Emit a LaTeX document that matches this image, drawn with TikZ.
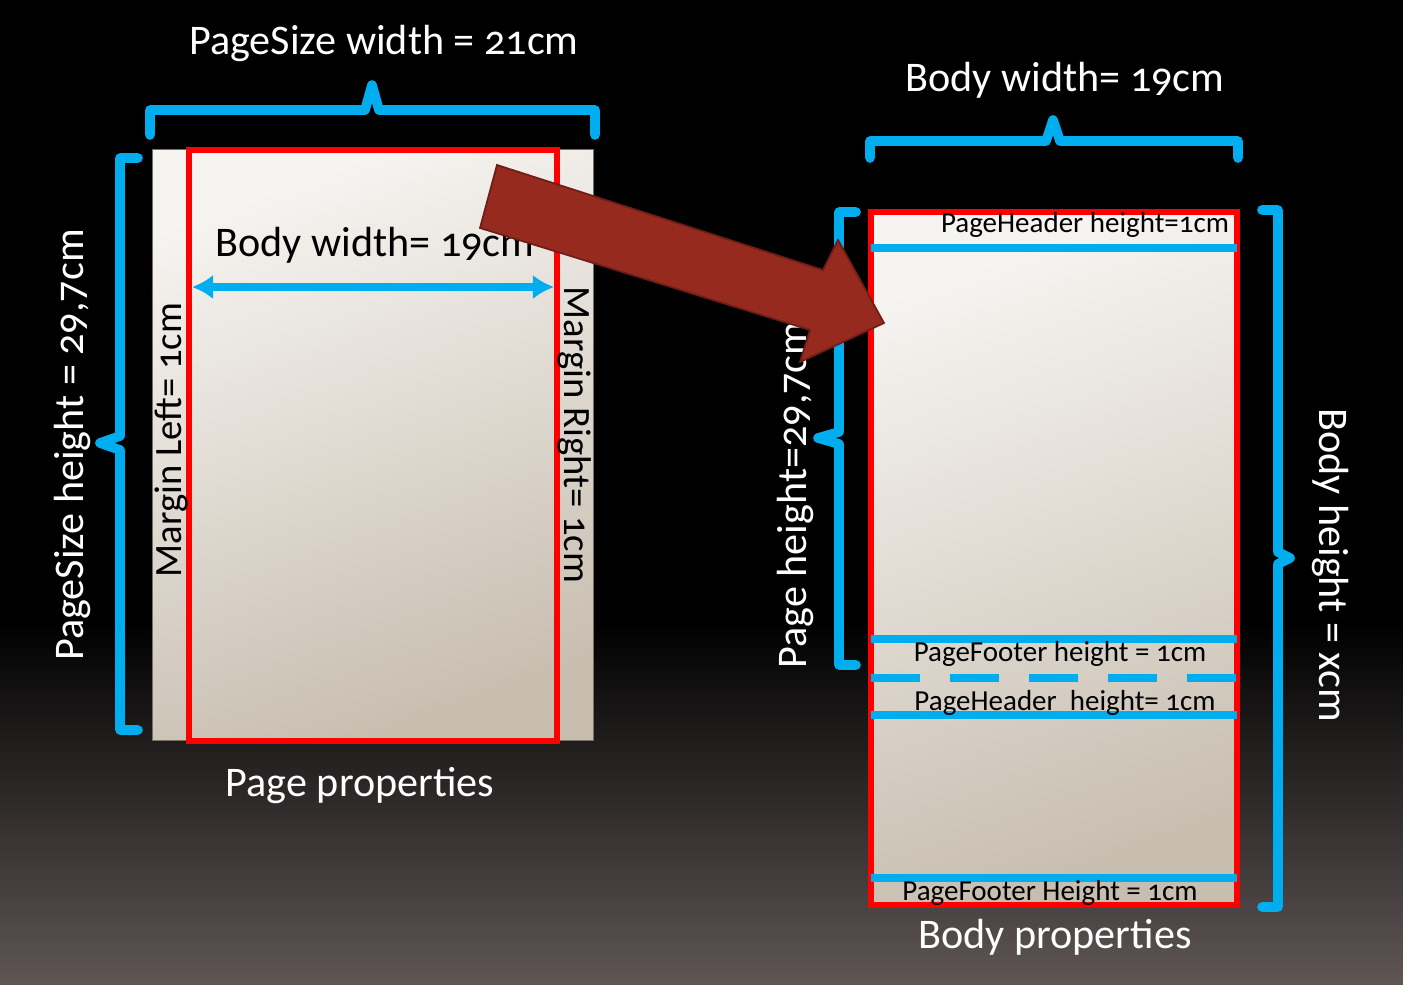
\documentclass[tikz,border=0pt]{standalone}
\usepackage{fontspec}
\usetikzlibrary{arrows.meta}
\setmainfont[Numbers=OldStyle]{Carlito}
\definecolor{cy}{RGB}{0,174,239}
\definecolor{pgtop}{RGB}{246,244,241}
\definecolor{pgbot}{RGB}{200,190,176}
\definecolor{pgedge}{RGB}{120,110,100}
\definecolor{bgbot}{RGB}{95,85,85}
\definecolor{arr}{RGB}{150,42,30}
\definecolor{arredge}{RGB}{110,30,22}
\begin{document}
\begin{tikzpicture}[x=0.02cm,y=-0.02cm,
  br/.style={draw=cy,line width=5.5pt,line cap=round,line join=round},
  cl/.style={draw=cy,line width=5pt},
  pg/.style={top color=pgtop,bottom color=pgbot,shading angle=20},
  redb/.style={draw=red,line width=3pt},
  wt/.style={text=white,font=\fontsize{24}{26}\selectfont,inner sep=0pt},
  bt/.style={text=black,inner sep=0pt},
  st/.style={bt,font=\fontsize{16.5}{18}\selectfont}]
\useasboundingbox (0,0) rectangle (1403,984);
\fill[black] (0,0) rectangle (1403,984);
\shade[top color=black,bottom color=bgbot] (0,620) rectangle (1403,984);
% left page
\fill[pg,draw=pgedge] (152,149) rectangle (593,740);
\draw[pgedge] (189,149) -- (189,740);
\draw[redb] (189,150) rectangle (557,741);
\draw[br] (150,135) -- (150,110) -- (365,110) -- (372,85) -- (379,110) -- (595,110) -- (595,135);
\draw[br] (138,158) -- (120,158) -- (120,436) -- (100,443) -- (120,450) -- (120,730) -- (138,730);
\node[wt] (psw) at (384,43) {PageSize width = 21cm};
\node[wt,rotate=90] (psh) at (72,445) {PageSize height = 29,7cm};
\node[bt,rotate=90,font=\fontsize{22}{24}\selectfont] (ml) at (172,440) {Margin Left= 1cm};
\node[bt,rotate=-90,font=\fontsize{22}{24}\selectfont] (mr) at (575,435) {Margin Right= 1cm};
\node[bt,font=\fontsize{24}{26}\selectfont] (bw1) at (375,245) {Body width= 19cm};
\coordinate (a1) at (192,287); \coordinate (a2) at (554,287);
\draw[cl,{Latex[length=12pt,width=14pt]}-{Latex[length=12pt,width=14pt]}] (a1) -- (a2);
\node[wt] (pp) at (360,786) {Page properties};
% right page
\fill[pg] (871,212) rectangle (1237,905);
\draw[redb] (871,212) rectangle (1237,905);
\draw[cl] (871,248) -- (1237,248);
\draw[cl] (871,639) -- (1237,639);
\draw[cl,dash pattern=on 28pt off 17pt] (871,678) -- (1237,678);
\draw[cl] (871,715) -- (1237,715);
\draw[cl] (871,878) -- (1237,878);
\node[st] (ph1) at (1085,225) {PageHeader height=1cm};
\node[st] (pf1) at (1060,654) {PageFooter height = 1cm};
\node[st] (ph2) at (1065,703) {PageHeader\ \ height= 1cm};
\node[st] (pf2) at (1050,893) {PageFooter Height = 1cm};
\draw[br] (870,158) -- (870,141) -- (1046,141) -- (1053,120) -- (1060,141) -- (1238,141) -- (1238,158);
\node[wt] (bw2) at (1065,80) {Body width= 19cm};
\draw[br] (856,212) -- (839,212) -- (839,432) -- (818,438) -- (839,444) -- (839,665) -- (856,665);
\node[wt,rotate=90] (ph) at (795,495) {Page height=29,7cm};
\draw[br] (1262,210) -- (1278,210) -- (1278,552) -- (1290,558) -- (1278,564) -- (1278,907) -- (1262,907);
\node[wt,rotate=-90] (bh) at (1330,565) {Body height = xcm};
\node[wt] (bp) at (1055,937) {Body properties};
% big arrow
\fill[arr,draw=arredge,line width=1pt]
 (497,165) -- (823,270) -- (838,240) -- (884,323) -- (800,362) -- (810,330) -- (480,228) -- cycle;
\end{tikzpicture}
\end{document}
